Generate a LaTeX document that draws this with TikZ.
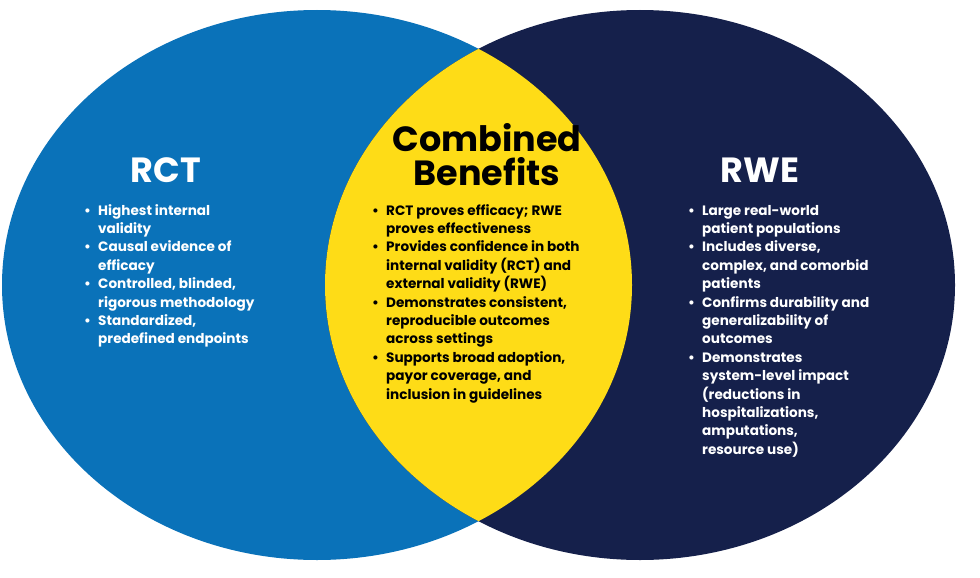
\documentclass[tikz,border=0pt]{standalone}
\usepackage{fontspec}
\setmainfont{Poppins}[BoldFont={* Bold}]
\definecolor{rctblue}{HTML}{0A72B9}
\definecolor{rwenavy}{HTML}{15204B}
\definecolor{combyel}{HTML}{FEDC17}
\tikzset{
  lst/.style={anchor=north west,inner sep=0pt,font=\fontsize{13.6}{18.4}\selectfont\bfseries,align=left},
  ttl/.style={font=\fontsize{35}{36}\selectfont\bfseries,align=center}
}
\newcommand{\bl}[1]{\makebox[14pt][l]{\textbullet} & #1\\}
\begin{document}
\begin{tikzpicture}[x=1pt,y=-1pt]
\useasboundingbox (0,0) rectangle (980,578);
\fill[rctblue] (317,285) ellipse [x radius=315,y radius=275];
\fill[rwenavy] (640,285) ellipse [x radius=315,y radius=275];
\begin{scope}
\clip (317,285) ellipse [x radius=315,y radius=275];
\fill[combyel] (640,285) ellipse [x radius=315,y radius=275];
\end{scope}
\node[ttl,white] (rct) at (166,170) {RCT};
\node[ttl,white] (rwe) at (760,170) {RWE};
\node[ttl,black] (cb) at (487,155) {Combined\\[-2pt]Benefits};
\node[lst,white] (l) at (84,202) {\begin{tabular}{@{}l@{}l@{}}
\bl{Highest internal}&validity\\
\bl{Causal evidence of}&efficacy\\
\bl{Controlled, blinded,}&rigorous methodology\\
\bl{Standardized,}&predefined endpoints\\
\end{tabular}};
\node[lst,black] (m) at (372,202) {\begin{tabular}{@{}l@{}l@{}}
\bl{RCT proves efficacy; RWE}&proves effectiveness\\
\bl{Provides confidence in both}&internal validity (RCT) and\\&external validity (RWE)\\
\bl{Demonstrates consistent,}&reproducible outcomes\\&across settings\\
\bl{Supports broad adoption,}&payor coverage, and\\&inclusion in guidelines\\
\end{tabular}};
\node[lst,white] (r) at (688,202) {\begin{tabular}{@{}l@{}l@{}}
\bl{Large real-world}&patient populations\\
\bl{Includes diverse,}&complex, and comorbid\\&patients\\
\bl{Confirms durability and}&generalizability of\\&outcomes\\
\bl{Demonstrates}&system-level impact\\&(reductions in\\&hospitalizations,\\&amputations,\\&resource use)\\
\end{tabular}};
\end{tikzpicture}
\end{document}
